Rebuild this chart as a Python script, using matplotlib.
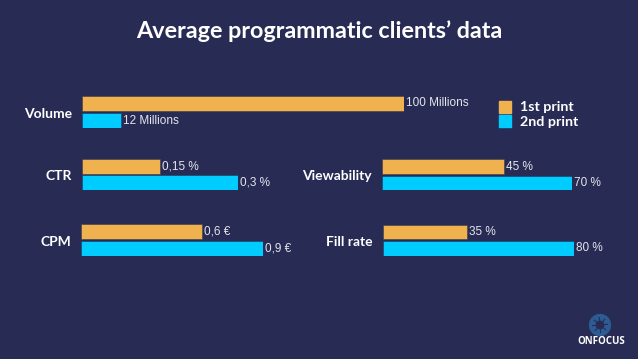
import matplotlib
matplotlib.use("Agg")
from matplotlib import pyplot as plt
from matplotlib.patches import Rectangle, Circle, Wedge

# data
metrics = ["Volume", "CTR", "CPM", "Viewability", "Fill rate"]
first_print = [100, 0.15, 0.6, 45, 35]
second_print = [12, 0.3, 0.9, 70, 80]
first_labels = ["100 Millions", "0,15 %", "0,6 €", "45 %", "35 %"]
second_labels = ["12 Millions", "0,3 %", "0,9 €", "70 %", "80 %"]
series_names = ["1st print", "2nd print"]

BG = "#282C55"
ORANGE = "#F0B24F"
CYAN = "#00CCFF"
VALUE_COL = "#E4E4EC"

W, H = 638, 359

# panel boxes in pixels: left, top, bottom, width of the longest bar
panels = [
    (82, 96, 128, 322),
    (82, 159, 190, 156),
    (81, 224, 256, 182),
    (382, 159.5, 190, 190),
    (383, 225, 255.5, 191),
]

fig = plt.figure(figsize=(W / 100, H / 100), dpi=100)
fig.patch.set_facecolor(BG)

fig.text(319 / W, 1 - 31 / H, "Average programmatic clients\u2019 data",
         ha="center", va="center", color="white", fontsize=16.8,
         fontweight="bold", family="Lato")

for i, (left, top, bottom, width) in enumerate(panels):
    ax = fig.add_axes([left / W, 1 - bottom / H, width / W, (bottom - top) / H])
    ax.set_facecolor("none")
    top_bar = ax.barh(0, first_print[i], height=0.88, color=ORANGE,
                      edgecolor="#3A3A50", linewidth=0.4)
    bot_bar = ax.barh(1, second_print[i], height=0.88, color=CYAN,
                      edgecolor="#1E3A60", linewidth=0.4)
    ax.set_xlim(0, max(first_print[i], second_print[i]))
    ax.set_ylim(1.44, -0.44)
    ax.axis("off")
    for cont, lab in ((top_bar, first_labels[i]), (bot_bar, second_labels[i])):
        ax.bar_label(cont, labels=[lab], padding=1.5, color=VALUE_COL,
                     fontsize=8.5, family="Liberation Sans", clip_on=False)
    ax.annotate(metrics[i], xy=(0, 0.5), xycoords="axes fraction",
                xytext=(-10, -1.5), textcoords="offset pixels",
                ha="right", va="center", color="white", fontsize=10,
                fontweight="bold", family="Lato")

# legend
for j, (col, name) in enumerate(zip([ORANGE, CYAN], series_names)):
    y_top = 101 + j * 14
    fig.add_artist(Rectangle((499 / W, 1 - (y_top + 12) / H), 12 / W, 12 / H,
                             transform=fig.transFigure, color=col))
    fig.text(520 / W, 1 - (y_top + 6.5) / H, name, ha="left", va="center",
             color="white", fontsize=10.3, fontweight="bold", family="Lato")

# logo
lax = fig.add_axes([589 / W, 1 - 336 / H, 22 / W, 22 / H])
lax.set_xlim(-1, 1)
lax.set_ylim(-1, 1)
lax.axis("off")
lax.add_patch(Circle((0, 0), 0.95, color="#2D5C94"))
for k in range(8):
    a = k * 45
    lax.add_patch(Wedge((0, 0), 0.72, a, a + 10, width=0.35, color=BG, lw=0))
lax.add_patch(Circle((0, 0), 0.35, color=BG))
fig.text(601 / W, 1 - 342 / H, "ONFOCUS", ha="center", va="center",
         color="white", fontsize=7, fontweight="bold", family="Open Sans")

fig.savefig("out.png", dpi=100, facecolor=BG)
